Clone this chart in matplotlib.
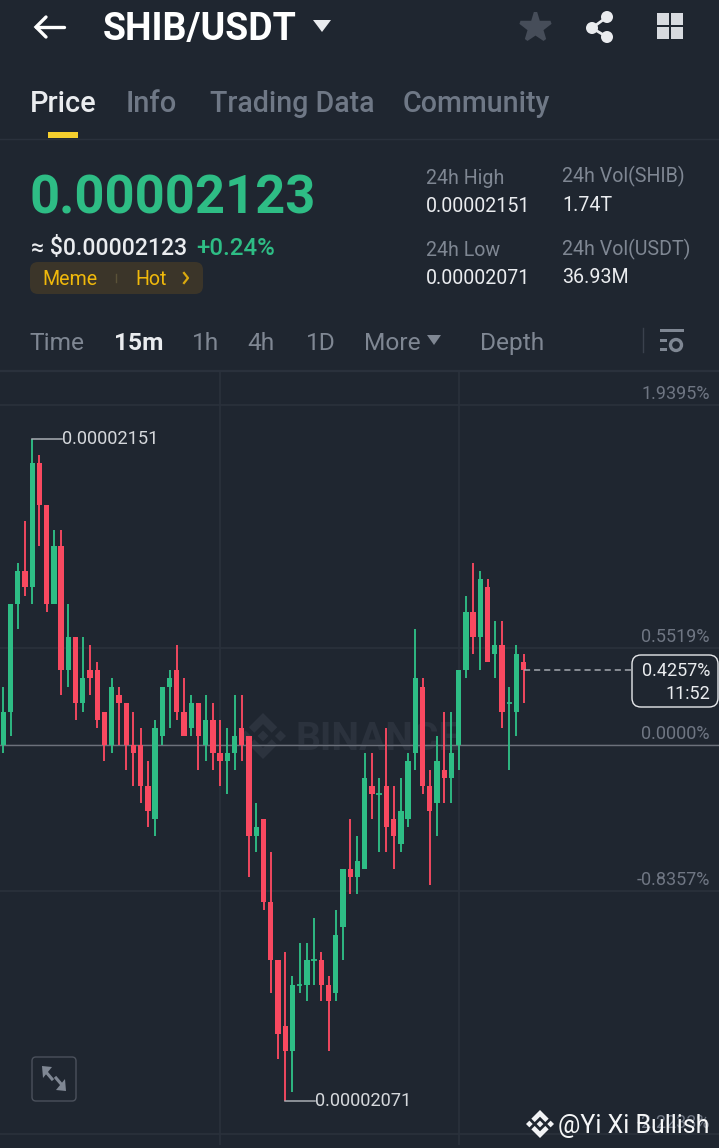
import matplotlib
matplotlib.use("Agg")
import matplotlib.pyplot as plt
from matplotlib.patches import FancyBboxPatch, Polygon, Rectangle, Circle

plt.rcParams['font.family'] = ['Roboto', 'DejaVu Sans']

# ---------- data (prices in units of 1e-8 USDT) ----------
opens = [2114,2118,2131,2135,2133,2148,2143,2131,2138,2123,2127,2119,2123,2123,2118,2114,2120,2119,2114,2114,2109,2105,2115,2121,2123,2118,2116,2119,2114,2117,2113,2112,2113,
         2116,2115,2103,2105,2095,2088,2080,2077,2085,2085,2088,2088,2085,2084,2092,2099,2098,2099,2109,2108,2109,2105,2102,2105,
         2113,2121,2109,2107,2111,2110,2114,2123,2130,2127,2133,2125,2126,2119,2118,2124]
highs = [2121,2131,2136,2141,2151,2149,2143,2140,2140,2131,2127,2127,2126,2124,2118,2122,2121,2119,2118,2116,2112,2117,2121,2123,2126,2122,2120,2119,2120,2119,2117,2116,2120,
         2120,2115,2107,2105,2101,2088,2089,2086,2090,2090,2093,2089,2086,2094,2099,2105,2103,2113,2113,2110,2116,2109,2110,2113,
         2128,2122,2111,2115,2118,2118,2123,2132,2136,2135,2134,2129,2129,2121,2126,2125]
lows  = [2113,2115,2128,2132,2131,2138,2130,2131,2120,2121,2117,2118,2120,2116,2112,2113,2114,2111,2109,2107,2104,2103,2114,2116,2117,2115,2115,2111,2112,2111,2109,2108,2111,
         2112,2098,2101,2094,2084,2076,2071,2072,2084,2083,2085,2083,2077,2083,2088,2096,2096,2099,2105,2101,2101,2099,2101,2104,
         2111,2108,2097,2103,2107,2107,2111,2122,2125,2123,2124,2122,2116,2111,2115,2119]
closes= [2118,2131,2135,2133,2148,2143,2131,2138,2123,2127,2119,2122,2122,2117,2114,2121,2119,2114,2113,2109,2106,2116,2121,2122,2118,2115,2119,2115,2117,2113,2112,2113,2115,
         2114,2103,2104,2095,2088,2079,2077,2085,2085,2088,2088,2085,2083,2091,2099,2098,2100,2110,2108,2108,2104,2103,2106,2112,
         2122,2109,2106,2112,2110,2113,2123,2130,2127,2134,2124,2126,2118,2119,2125,2123]
base_price = 2114
pct_levels = [1.9395, 0.5519, 0.0, -0.8357, -2.2233]
pct_labels = ['1.9395%', '0.5519%', '0.0000%', '-0.8357%', '-2.2233%']
grid_candles = [30, 63]
high_label = '0.00002151'
low_label = '0.00002071'
last_pct = 0.4257
last_label = ['0.4257%', '11:52']

BG = '#1f2630'
GREEN = '#2ebd85'
RED = '#f84960'
GRID = '#2a313c'
GREY = '#7f8793'
WHITE = '#eaecef'

W, H = 719, 1148
fig = plt.figure(figsize=(W/100, H/100), dpi=100, facecolor=BG)

def full_axes(z):
    a = fig.add_axes([0, 0, 1, 1], zorder=z)
    a.set_xlim(0, W); a.set_ylim(H, 0); a.axis('off')
    a.patch.set_alpha(0)
    return a

bg = full_axes(0)
fg = full_axes(2)

def t(a, x, y, s, px, color=GREY, weight='normal', ha='left', **kw):
    return a.text(x, y, s, fontsize=px*0.72, color=color, fontweight=weight, ha=ha, va='baseline', **kw)

def logo(a, cx, cy, r, color, alpha=1.0):
    chev = [(0,-1),(.62,-.38),(.38,-.14),(0,-.52),(-.38,-.14),(-.62,-.38)]
    for sign in (1,-1):
        a.add_patch(Polygon([(cx+p*r, cy+sign*q*r) for p,q in chev], fc=color, ec='none', alpha=alpha))
    for dx in (-.76, 0, .76):
        h = .24
        a.add_patch(Polygon([(cx+(dx-h)*r,cy),(cx+dx*r,cy-h*r),(cx+(dx+h)*r,cy),(cx+dx*r,cy+h*r)], fc=color, ec='none', alpha=alpha))

# ---------- header ----------
bg.plot([36,64],[27,27], color='white', lw=2.4, solid_capstyle='round')
bg.plot([46,36,46],[17,27,37], color='white', lw=2.4, solid_capstyle='round', solid_joinstyle='miter')
t(bg,103,40,'SHIB/USDT',37.5,'white','bold')
bg.add_patch(Polygon([(313,20),(331,20),(322,32)], fc='#eaecef', ec='none'))
bg.plot([535],[27], marker='*', ms=22, color='#464d59', mec='#464d59', mew=2.5, mfc='#464d59')
for cx_,cy_ in [(607,17),(592,28),(607,37)]:
    bg.add_patch(Circle((cx_,cy_), 6, fc='#eaecef', ec='none'))
bg.plot([607,592,607],[17,28,37], color='#eaecef', lw=2)
for gx in (657,671):
    for gy in (13,27):
        bg.add_patch(Rectangle((gx,gy),12,12,fc='#d8dbe0',ec='none'))

# ---------- tabs ----------
t(bg,30,112,'Price',29,'#eaecef','medium')
t(bg,126,112,'Info',29,'#6f7886','medium')
t(bg,210,112,'Trading Data',28.5,'#6f7886','medium')
t(bg,403,112,'Community',28.6,'#6f7886','medium')
bg.add_patch(Rectangle((48,132),30,6,fc='#f5cf2e',ec='none'))
bg.plot([0,W],[138.5,138.5],color=GRID,lw=1)

# ---------- price block ----------
t(bg,30,213,'0.00002123',52.5,GREEN,'bold')
t(bg,31,255,'≈ $0.00002123',23,'#eaecef','medium')
t(bg,196.5,255,'+0.24%',24,GREEN,'medium')
bg.add_patch(FancyBboxPatch((36,268),161,20,boxstyle='round,pad=6,rounding_size=8',fc='#3b3529',ec='none'))
t(bg,42,285,'Meme',19.6,'#f0b90b')
bg.plot([116,116],[274,282],color='#5a5238',lw=1)
t(bg,135,285,'Hot',19.6,'#f0b90b')
bg.plot([184,188,184],[273,278,283],color='#d9a90f',lw=1.6)

t(bg,425.5,184,'24h High',19.6,GREY)
t(bg,425.5,212,high_label,19.6,'#eaecef')
t(bg,425.5,256,'24h Low',19.6,GREY)
t(bg,425.5,284,low_label,19.6,'#eaecef')
t(bg,562,182,'24h Vol(SHIB)',19.6,GREY)
t(bg,562,211,'1.74T',19.6,'#eaecef')
t(bg,562,255,'24h Vol(USDT)',19.6,GREY)
t(bg,562,283,'36.93M',19.6,'#eaecef')

# ---------- interval row ----------
for x_, s_ in [(29.5,'Time'),(191.5,'1h'),(247.5,'4h'),(305.5,'1D'),(364.5,'More'),(480.5,'Depth')]:
    t(bg,x_,350,s_,24.5,GREY)
t(bg,114.5,350,'15m',24.5,'#eaecef','bold')
bg.add_patch(Polygon([(427,335),(441,335),(434,345)], fc=GREY, ec='none'))
bg.plot([643,643],[328,352],color='#3a414d',lw=1)
bg.add_patch(Rectangle((660,329),24,3,fc=GREY,ec='none'))
bg.add_patch(Rectangle((660,339),7,3,fc=GREY,ec='none'))
bg.add_patch(Rectangle((660,348),7,3,fc=GREY,ec='none'))
bg.add_patch(Circle((676,345),5.5,fc=BG,ec=GREY,lw=2.4))
bg.plot([0,W],[371,371],color=GRID,lw=1.6)

# ---------- watermark behind candles ----------
logo(bg,263,736,23,'#2c333e')
t(bg,296,750,'BINANCE',39,'#2b323d','bold')

# ---------- chart ----------
Y0, Y1 = 372, 1145
unit = 8.275
zero_y = 744.7
x_step, x_first = 7.228, 3.3
ax = fig.add_axes([0, 1-Y1/H, 1, (Y1-Y0)/H], zorder=1)
ax.patch.set_alpha(0)
ax.set_xlim(-x_first/x_step, (W-x_first)/x_step)
ax.set_ylim(base_price+(zero_y-Y1)/unit, base_price+(zero_y-Y0)/unit)
for s in ax.spines.values():
    s.set_visible(False)
grid_prices = [base_price*(1+p/100) for p in pct_levels]
ax.set_yticks(grid_prices); ax.set_xticks(grid_candles)
ax.tick_params(length=0, labelleft=False, labelbottom=False)
ax.grid(True, color=GRID, lw=1.2)
ax.set_axisbelow(True)
ax.axhline(base_price, color='#6c717b', lw=1.0, zorder=1.5)

for i, (o, h_, l, c) in enumerate(zip(opens, highs, lows, closes)):
    col = GREEN if c >= o else RED
    ax.vlines(i, l, h_, color=col, lw=1.35, zorder=3)
    if o == c:
        ax.hlines(o, i-0.37, i+0.37, color=col, lw=1.3, zorder=3)
    else:
        ax.bar(i, abs(c-o), bottom=min(o,c), width=0.74, color=col, lw=0, zorder=3)

for p, lab in zip(grid_prices, pct_labels):
    ax.annotate(lab, xy=(1,p), xycoords=ax.get_yaxis_transform(), xytext=(-6.5,4.3),
                textcoords='offset points', ha='right', va='baseline', fontsize=18*0.72,
                color='#6f7683', zorder=2)

hi_i = highs.index(max(highs)); lo_i = lows.index(min(lows))
ax.plot([hi_i, hi_i+4.1],[highs[hi_i]]*2, color='#a9adb3', lw=1.1, zorder=4)
ax.annotate(high_label, xy=(hi_i+4.1,highs[hi_i]), xytext=(0,-3.8), textcoords='offset points',
            fontsize=18.3*0.72, color='#d5d8dc', va='baseline', ha='left', zorder=4)
ax.plot([lo_i, lo_i+4.1],[lows[lo_i]]*2, color='#a9adb3', lw=1.1, zorder=4)
ax.annotate(low_label, xy=(lo_i+4.1,lows[lo_i]), xytext=(0,-3.8), textcoords='offset points',
            fontsize=18.3*0.72, color='#d5d8dc', va='baseline', ha='left', zorder=4)

last_price = base_price*(1+last_pct/100)
n = len(closes)-1
ax.plot([n, (632-x_first)/x_step],[last_price]*2, color='#a4a8af', lw=1.1, ls=(0,(4,2.6)), zorder=4)

# ---------- foreground ----------
fg.add_patch(FancyBboxPatch((639,662),72,38,boxstyle='round,pad=7,rounding_size=9',fc=BG,ec='#e6e8eb',lw=1))
t(fg,710,676,last_label[0],18,'#eaecef',ha='right')
t(fg,710,699,last_label[1],18,'#eaecef',ha='right')

fg.add_patch(FancyBboxPatch((34,1059),40,40,boxstyle='round,pad=2,rounding_size=4',fc=BG,ec='#4b515c',lw=1))
fg.add_patch(Polygon([(42,1066),(52,1067),(43,1078)],fc='#7f8793',ec='none'))
fg.add_patch(Polygon([(66,1091),(56,1090),(65,1079)],fc='#7f8793',ec='none'))
fg.plot([46,52],[1072,1079],color='#7f8793',lw=2.2)
fg.plot([56,62],[1078,1085],color='#7f8793',lw=2.2)

logo(fg,540,1124,14,'#f2f3f5')
t(fg,558,1133,'@Yi Xi Bullish',25,'#f5f6f7')

fig.savefig('out.png', dpi=100, facecolor=BG)
